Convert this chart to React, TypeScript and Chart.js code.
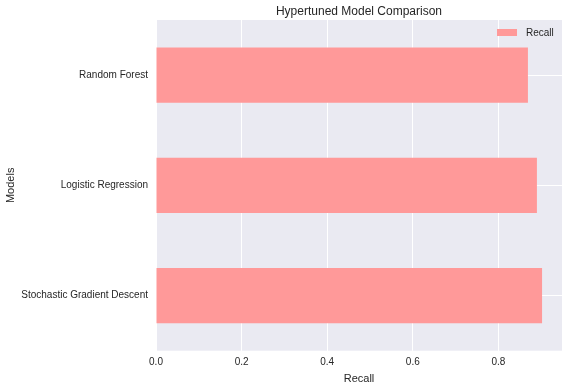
import React, { useEffect, useRef } from "react";
import { Chart, registerables } from "chart.js";

Chart.register(...registerables);

const models = ["Random Forest", "Logistic Regression", "Stochastic Gradient Descent"];
const recall = [0.869, 0.89, 0.902];
const xTicks = [0, 0.2, 0.4, 0.6, 0.8];
const seriesName = "Recall";
const chartTitle = "Hypertuned Model Comparison";

const FONT = "'Liberation Sans', Arial, sans-serif";
const TEXT = "#262626";
const BAR = "#FF9999";
const BG = "#EAEAF2";

export default function App() {
  const ref = useRef<HTMLCanvasElement | null>(null);

  useEffect(() => {
    if (!ref.current) return;
    const bgPlugin = {
      id: "bg",
      beforeDraw(chart: any) {
        const { ctx, chartArea } = chart;
        ctx.save();
        ctx.fillStyle = BG;
        ctx.fillRect(chartArea.left, chartArea.top, chartArea.right - chartArea.left, chartArea.bottom - chartArea.top);
        ctx.restore();
      },
      afterDraw(chart: any) {
        const { ctx, chartArea } = chart;
        ctx.save();
        // title centred over the plot area
        ctx.fillStyle = TEXT;
        ctx.font = `12px ${FONT}`;
        ctx.textAlign = "center";
        ctx.textBaseline = "middle";
        ctx.fillText(chartTitle, (chartArea.left + chartArea.right) / 2, chartArea.top - 8.5);
        // legend
        const px = chartArea.right - 65;
        const py = chartArea.top + 9;
        ctx.fillStyle = BAR;
        ctx.fillRect(px, py, 20, 7);
        ctx.fillStyle = TEXT;
        ctx.font = `10px ${FONT}`;
        ctx.textAlign = "left";
        ctx.fillText(seriesName, px + 29, py + 4);
        ctx.restore();
      },
    };

    const chart = new Chart(ref.current, {
      type: "bar",
      data: {
        labels: models,
        datasets: [
          {
            label: seriesName,
            data: recall,
            backgroundColor: BAR,
            borderWidth: 0,
            barPercentage: 0.5,
            categoryPercentage: 1,
          },
        ],
      },
      options: {
        indexAxis: "y",
        animation: false,
        responsive: false,
        maintainAspectRatio: false,
        layout: { padding: { left: 0, right: 6, top: 20, bottom: 0 } },
        plugins: {
          legend: { display: false },
          tooltip: { enabled: false },
          title: { display: false },
        },
        scales: {
          x: {
            type: "linear",
            min: 0,
            max: 0.9486,
            border: { display: false },
            grid: { color: "#ffffff", lineWidth: 1, drawTicks: false },
            afterBuildTicks(scale: any) {
              scale.ticks = xTicks.map((v) => ({ value: v }));
            },
            ticks: {
              color: TEXT,
              font: { family: FONT, size: 10 },
              padding: 6,
              callback: (v: any) => Number(v).toFixed(1),
            },
            title: {
              display: true,
              text: seriesName,
              color: TEXT,
              font: { family: FONT, size: 11 },
              padding: { top: 2, bottom: 2.8 },
            },
            afterFit(scale: any) {
              scale.height = 37.3;
            },
          },
          y: {
            type: "category",
            border: { display: false },
            grid: { color: "#ffffff", lineWidth: 1, drawTicks: false, offset: false },
            ticks: {
              color: TEXT,
              font: { family: FONT, size: 10 },
              padding: 8,
            },
            title: {
              display: true,
              text: "Models",
              color: TEXT,
              font: { family: FONT, size: 11 },
              padding: { top: 4, bottom: 0 },
            },
            afterFit(scale: any) {
              scale.width = 156;
            },
          },
        },
      },
      plugins: [bgPlugin],
    } as any);
    return () => chart.destroy();
  }, []);

  return (
    <div style={{ position: "fixed", left: 0, top: 0, width: 568, height: 388, background: "#ffffff" }}>
      <canvas ref={ref} width={568} height={388} style={{ width: 568, height: 388, display: "block" }} />
    </div>
  );
}
